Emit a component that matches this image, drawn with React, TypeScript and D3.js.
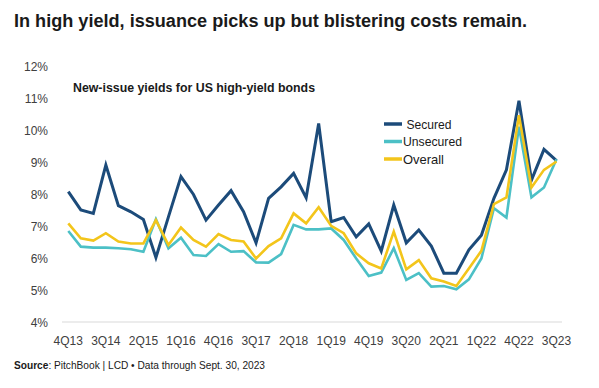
import React from "react";
import * as d3 from "d3";

const quarters = [
  "4Q13","1Q14","2Q14","3Q14","4Q14","1Q15","2Q15","3Q15","4Q15","1Q16",
  "2Q16","3Q16","4Q16","1Q17","2Q17","3Q17","4Q17","1Q18","2Q18","3Q18",
  "4Q18","1Q19","2Q19","3Q19","4Q19","1Q20","2Q20","3Q20","4Q20","1Q21",
  "2Q21","3Q21","4Q21","1Q22","2Q22","3Q22","4Q22","1Q23","2Q23","3Q23",
];

const secured = [
  8.09,7.52,7.41,8.92,7.65,7.46,7.22,6.03,7.30,8.56,
  8.00,7.20,7.67,8.12,7.46,6.49,7.88,8.24,8.66,7.90,
  10.22,7.15,7.28,6.68,7.08,6.23,7.67,6.49,6.89,6.39,
  5.54,5.54,6.27,6.73,7.88,8.77,10.93,8.45,9.41,9.06,
];

const unsecured = [
  6.86,6.37,6.34,6.34,6.32,6.29,6.21,7.23,6.32,6.65,
  6.11,6.08,6.45,6.21,6.23,5.88,5.87,6.14,7.05,6.91,
  6.91,6.94,6.58,6.00,5.45,5.56,6.32,5.33,5.54,5.12,
  5.14,5.04,5.35,6.00,7.57,7.28,10.12,7.91,8.22,9.10,
];

const overall = [
  7.10,6.63,6.56,6.79,6.53,6.47,6.47,7.20,6.42,6.97,
  6.58,6.37,6.76,6.58,6.53,6.00,6.39,6.63,7.41,7.10,
  7.60,7.02,6.79,6.16,5.85,5.69,6.84,5.66,5.95,5.38,
  5.28,5.14,5.69,6.24,7.70,7.91,10.48,8.22,8.77,9.03,
];

const tickLabels = ["4Q13","3Q14","2Q15","1Q16","4Q16","3Q17","2Q18","1Q19","4Q19","3Q20","2Q21","1Q22","4Q22","3Q23"];
const yTicks = [4, 5, 6, 7, 8, 9, 10, 11, 12];

const seriesNames = ["Secured", "Unsecured", "Overall"];
const seriesColors = ["#1c4b7a", "#4cc0c6", "#f3c51b"];
const seriesData = [secured, unsecured, overall];
const seriesWidths = [3, 2.6, 2.6];

const FONT = "'Liberation Sans', Arial, sans-serif";

export default function App() {
  const W = 599, H = 388;
  const x = d3.scaleLinear().domain([0, quarters.length - 1]).range([68.3, 556.5]);
  const y = d3.scaleLinear().domain([4, 12]).range([322.5, 66.5]);
  const line = d3.line<number>().x((_, i) => x(i)).y((d) => y(d));

  const legendY = [124, 141.5, 159];

  return (
    <svg width={W} height={H} style={{ position: "absolute", left: 0, top: 0, background: "#fff" }}>
      <rect width={W} height={H} fill="#fff" />
      <text x={14} y={27} fontFamily={FONT} fontWeight="bold" fontSize={17.5} fill="#1a1a1a"
        textLength={513} lengthAdjust="spacingAndGlyphs">
        In high yield, issuance picks up but blistering costs remain.
      </text>

      {yTicks.map((t) => (
        <text key={t} x={48} y={y(t) + 4.3} textAnchor="end" fontFamily={FONT} fontSize={12} fill="#404040">
          {t}%
        </text>
      ))}

      <line x1={62} x2={562} y1={y(4) - 0.5} y2={y(4) - 0.5} stroke="#d9d9d9" strokeWidth={1} />

      {tickLabels.map((lab) => {
        const i = quarters.indexOf(lab);
        return (
          <text key={lab} x={x(i)} y={345} textAnchor="middle" fontFamily={FONT} fontSize={12} fill="#404040">
            {lab}
          </text>
        );
      })}

      <text x={73} y={92} fontFamily={FONT} fontWeight="bold" fontSize={12.5} fill="#1a1a1a"
        textLength={242} lengthAdjust="spacingAndGlyphs">
        New-issue yields for US high-yield bonds
      </text>

      {seriesData.map((data, k) => (
        <path key={seriesNames[k]} d={line(data) || ""} fill="none" stroke={seriesColors[k]}
          strokeWidth={seriesWidths[k]} strokeLinejoin="miter" strokeMiterlimit={4} />
      ))}

      {seriesNames.map((name, k) => (
        <g key={name}>
          <line x1={384} x2={402} y1={legendY[k]} y2={legendY[k]} stroke={seriesColors[k]} strokeWidth={3.5} />
          <text x={k === 0 ? 406.5 : 403} y={legendY[k] + 4.6} fontFamily={FONT} fontSize={13} fill="#1a1a1a"
            textLength={k === 0 ? 45 : k === 1 ? 59 : 41} lengthAdjust="spacingAndGlyphs">
            {name}
          </text>
        </g>
      ))}

      <text x={14} y={369} fontFamily={FONT} fontSize={11} fill="#1a1a1a" textLength={251} lengthAdjust="spacingAndGlyphs">
        <tspan fontWeight="bold">Source</tspan>
        <tspan>: PitchBook | LCD • Data through Sept. 30, 2023</tspan>
      </text>
    </svg>
  );
}
